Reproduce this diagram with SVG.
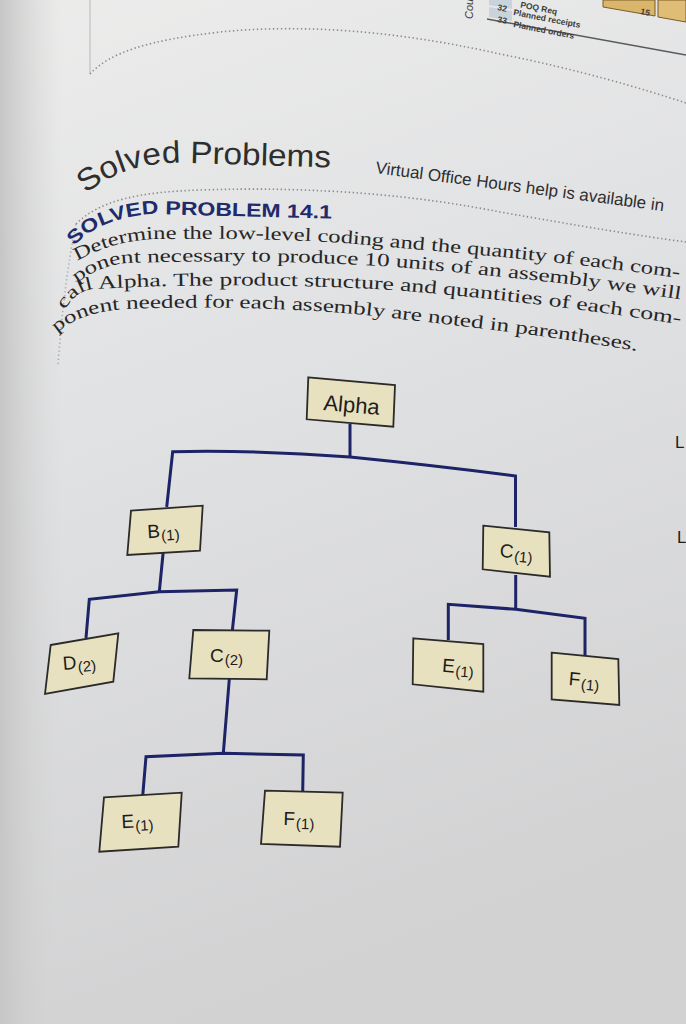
<svg xmlns="http://www.w3.org/2000/svg" width="686" height="1024" viewBox="0 0 686 1024">
<defs>
<linearGradient id="bg" x1="0" y1="0" x2="0.25" y2="1">
<stop offset="0" stop-color="#ececeb"/>
<stop offset="0.45" stop-color="#e0e1e3"/>
<stop offset="1" stop-color="#d2d2d3"/>
</linearGradient>
<linearGradient id="edge" x1="0" y1="0" x2="1" y2="0">
<stop offset="0" stop-color="#c6c6c6"/>
<stop offset="1" stop-color="#d6d6d6" stop-opacity="0"/>
</linearGradient>
<path id="pTitle" d="M86,194 Q126,160 190,163 L345,168"/>
<path id="pVirt" d="M375,173 L700,216"/>
<path id="pSolved" d="M74,246 Q100,218 152,214 L345,219"/>
<path id="pA" d="M77,261 Q118,238 165,239 C260,238 330,241 378,246 C480,255 590,264 690,280"/>
<path id="pB" d="M77,283 Q100,265 128,263 C250,259 360,263 430,270 C530,279 610,288 690,301"/>
<path id="pC" d="M65,310 Q75,292 92,289 C200,283 330,285 405,291 C500,299 600,311 690,326"/>
<path id="pD" d="M57,333 Q80,312 125,309 C230,305 330,310 392,318 C470,327 560,337 660,355"/>
</defs>
<style>
.node{fill:#e8e1bf;stroke:#2a2a2a;stroke-width:1.8;stroke-linejoin:miter}
.lbl{font-family:"Liberation Sans",Arial,sans-serif;font-size:19px;fill:#1c1c1c}
.sub{font-size:15px}
.conn{fill:none;stroke:#1c2366;stroke-width:3;stroke-linejoin:miter;stroke-linecap:butt}
.body{font-family:"Liberation Serif","Times New Roman",serif;font-size:18.5px;fill:#262626}
.dots{fill:none;stroke:#8a8a8a;stroke-width:1.6;stroke-dasharray:1.4 2.6}
.ss{font-family:"Liberation Sans",Arial,sans-serif;font-size:8.5px;font-weight:bold;fill:#3a3a3a}
</style>

<!-- page -->
<rect x="0" y="0" width="686" height="1024" fill="url(#bg)"/>
<rect x="0" y="0" width="62" height="1024" fill="url(#edge)"/>
<line x1="90" y1="0" x2="90" y2="74" stroke="#b8b8b8" stroke-width="1"/>

<!-- spreadsheet fragment -->
<g id="sheet">
<polygon points="489,0 512,0 512,9 489,5" fill="#c9d3dc"/>
<polygon points="489,7 512,11 512,21 489,17" fill="#c9d3dc"/>
<polygon points="603,0 655,0 655,16 603,7" fill="#d9b66c" stroke="#7a5b25" stroke-width="1"/>
<polygon points="658,0 686,0 686,22 658,17" fill="#dfbd76" stroke="#7a5b25" stroke-width="1"/>
<line x1="487" y1="19" x2="686" y2="55" stroke="#5a5a5a" stroke-width="1.5"/>
<text class="ss" x="520" y="7.5" transform="rotate(11 520 7.5)">POQ Req</text>
<text class="ss" x="497" y="10" transform="rotate(11 497 10)">32</text>
<text class="ss" x="513" y="15" transform="rotate(11 513 15)">Planned receipts</text>
<text class="ss" x="497" y="22" transform="rotate(11 497 22)">33</text>
<text class="ss" x="513" y="27" transform="rotate(11 513 27)">Planned orders</text>
<text class="ss" x="640" y="14" transform="rotate(11 640 14)">15</text>
<text class="ss" style="font-size:11px;font-weight:normal;font-style:italic" transform="translate(473,19) rotate(-90)">Cou</text>
</g>

<!-- dotted borders -->
<path class="dots" d="M90,74 C110,52 150,40 220,32 C320,22 420,36 500,54 C580,70 640,88 686,103"/>
<path class="dots" d="M76,224 C100,200 140,192 200,190 C320,186 420,196 500,212 C580,226 640,236 686,242"/>
<path class="dots" d="M76,224 C68,262 62,310 58,365" stroke-opacity="0.6"/>

<!-- headings -->
<text style="font-family:'Liberation Sans',Arial,sans-serif;font-size:31px;fill:#2e2e2e"><textPath href="#pTitle" textLength="252" lengthAdjust="spacingAndGlyphs">Solved Problems</textPath></text>
<text style="font-family:'Liberation Sans',Arial,sans-serif;font-size:17px;fill:#2e2e2e"><textPath href="#pVirt">Virtual Office Hours help is available in</textPath></text>
<text style="font-family:'Liberation Sans',Arial,sans-serif;font-size:19px;font-weight:bold;fill:#202a6c"><textPath href="#pSolved" textLength="266" lengthAdjust="spacingAndGlyphs">SOLVED PROBLEM 14.1</textPath></text>

<!-- body -->
<text class="body"><textPath href="#pA" textLength="608" lengthAdjust="spacingAndGlyphs">Determine the low-level coding and the quantity of each com-</textPath></text>
<text class="body"><textPath href="#pB" textLength="610" lengthAdjust="spacingAndGlyphs">ponent necessary to produce 10 units of an assembly we will</textPath></text>
<text class="body"><textPath href="#pC" textLength="626" lengthAdjust="spacingAndGlyphs">call Alpha. The product structure and quantities of each com-</textPath></text>
<text class="body"><textPath href="#pD" textLength="588" lengthAdjust="spacingAndGlyphs">ponent needed for each assembly are noted in parentheses.</textPath></text>

<!-- margin letters -->
<text class="lbl" style="font-size:17px" x="675" y="448">L</text>
<text class="lbl" style="font-size:17px" x="677" y="543">L</text>

<!-- connectors -->
<g id="connectors">
<path class="conn" d="M350,424 L350,457"/>
<path class="conn" d="M166.7,507 L172.7,451.7 Q260,450 350,457 Q440,466 515.5,476 L515.5,527"/>
<path class="conn" d="M163.3,551 L159.3,591.7"/>
<path class="conn" d="M86,638 L89.3,599.3 L159.3,591.7 L236.7,590 L232.3,631"/>
<path class="conn" d="M515.7,575 L515.7,609.3"/>
<path class="conn" d="M448.3,640 L448.3,604.3 L515.7,609.3 L585,618.3 L585,656"/>
<path class="conn" d="M229.3,679 L223.3,753.3"/>
<path class="conn" d="M142.7,796 L146,756.7 L223.3,753.3 L303.3,755 L302.7,792"/>
</g>

<!-- nodes -->
<g id="node-alpha">
<polygon class="node" points="308.3,377.3 395,385 393.3,426.7 306.7,419.3"/>
<text class="lbl" style="font-size:22px" x="323" y="410" transform="rotate(5 323 410)">Alpha</text>
</g>
<g id="node-b">
<polygon class="node" points="131,510.7 202.7,505.7 200,550.7 127.3,555"/>
<text class="lbl" x="147.7" y="538.3" transform="rotate(-4 147.7 538.3)">B<tspan class="sub" dx="1" dy="3.5">(1)</tspan></text>
</g>
<g id="node-c1">
<polygon class="node" points="483.3,525.7 549.3,532.3 550,576.7 482.7,569.3"/>
<text class="lbl" x="499.3" y="556.7" transform="rotate(5.5 499.3 556.7)">C<tspan class="sub" dx="1" dy="3.5">(1)</tspan></text>
</g>
<g id="node-d">
<polygon class="node" points="50.7,645 118.3,633.3 113.3,681.7 45,694"/>
<text class="lbl" x="63.3" y="670" transform="rotate(-5 63.3 670)">D<tspan class="sub" dx="1" dy="3.5">(2)</tspan></text>
</g>
<g id="node-c2">
<polygon class="node" points="193.3,630 269.3,630.7 266.7,679.3 189.3,678.3"/>
<text class="lbl" x="210" y="661.7">C<tspan class="sub" dx="1" dy="3.5">(2)</tspan></text>
</g>
<g id="node-e1">
<polygon class="node" points="413.3,638.3 483.3,644 483.3,691.7 412.7,684.3"/>
<text class="lbl" x="441.7" y="671.7" transform="rotate(4.5 441.7 671.7)">E<tspan class="sub" dx="1" dy="3.5">(1)</tspan></text>
</g>
<g id="node-f1">
<polygon class="node" points="551.7,652.7 618.3,659 619.3,705 551.7,699.3"/>
<text class="lbl" x="568.3" y="685" transform="rotate(5 568.3 685)">F<tspan class="sub" dx="1" dy="3.5">(1)</tspan></text>
</g>
<g id="node-e2">
<polygon class="node" points="104,797.3 181.7,792.7 178.3,846.7 99.3,851.7"/>
<text class="lbl" x="121.7" y="828.3" transform="rotate(-3 121.7 828.3)">E<tspan class="sub" dx="1" dy="3.5">(1)</tspan></text>
</g>
<g id="node-f2">
<polygon class="node" points="265,790.7 342.7,792.7 340,846.7 261,844"/>
<text class="lbl" x="283.3" y="825" transform="rotate(1.5 283.3 825)">F<tspan class="sub" dx="1" dy="3.5">(1)</tspan></text>
</g>
</svg>
